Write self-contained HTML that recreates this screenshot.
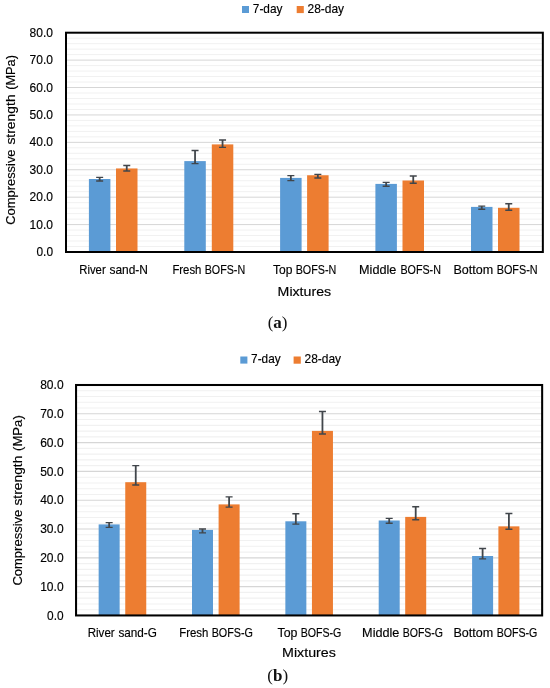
<!DOCTYPE html>
<html lang="en">
<head>
<meta charset="utf-8">
<title>Compressive strength of mixtures</title>
<style>
html,body{margin:0;padding:0;background:#fff;}
body{width:550px;height:688px;overflow:hidden;}
svg{display:block;}
text{white-space:pre;}
</style>
</head>
<body>
<svg width="550" height="688" viewBox="0 0 550 688">
<rect width="550" height="688" fill="#fff"/>
<g id="chart-a">
<rect x="66" y="32.7" width="476.85" height="219.3" fill="#fff"/>
<line x1="66" x2="542.85" y1="246.52" y2="246.52" stroke="#F1F1F1" stroke-width="1.0"/>
<line x1="66" x2="542.85" y1="241.03" y2="241.03" stroke="#F1F1F1" stroke-width="1.0"/>
<line x1="66" x2="542.85" y1="235.55" y2="235.55" stroke="#F1F1F1" stroke-width="1.0"/>
<line x1="66" x2="542.85" y1="230.07" y2="230.07" stroke="#F1F1F1" stroke-width="1.0"/>
<line x1="66" x2="542.85" y1="224.59" y2="224.59" stroke="#D6D6D6" stroke-width="1.0"/>
<line x1="66" x2="542.85" y1="219.11" y2="219.11" stroke="#F1F1F1" stroke-width="1.0"/>
<line x1="66" x2="542.85" y1="213.62" y2="213.62" stroke="#F1F1F1" stroke-width="1.0"/>
<line x1="66" x2="542.85" y1="208.14" y2="208.14" stroke="#F1F1F1" stroke-width="1.0"/>
<line x1="66" x2="542.85" y1="202.66" y2="202.66" stroke="#F1F1F1" stroke-width="1.0"/>
<line x1="66" x2="542.85" y1="197.18" y2="197.18" stroke="#D6D6D6" stroke-width="1.0"/>
<line x1="66" x2="542.85" y1="191.69" y2="191.69" stroke="#F1F1F1" stroke-width="1.0"/>
<line x1="66" x2="542.85" y1="186.21" y2="186.21" stroke="#F1F1F1" stroke-width="1.0"/>
<line x1="66" x2="542.85" y1="180.73" y2="180.73" stroke="#F1F1F1" stroke-width="1.0"/>
<line x1="66" x2="542.85" y1="175.25" y2="175.25" stroke="#F1F1F1" stroke-width="1.0"/>
<line x1="66" x2="542.85" y1="169.76" y2="169.76" stroke="#D6D6D6" stroke-width="1.0"/>
<line x1="66" x2="542.85" y1="164.28" y2="164.28" stroke="#F1F1F1" stroke-width="1.0"/>
<line x1="66" x2="542.85" y1="158.8" y2="158.8" stroke="#F1F1F1" stroke-width="1.0"/>
<line x1="66" x2="542.85" y1="153.31" y2="153.31" stroke="#F1F1F1" stroke-width="1.0"/>
<line x1="66" x2="542.85" y1="147.83" y2="147.83" stroke="#F1F1F1" stroke-width="1.0"/>
<line x1="66" x2="542.85" y1="142.35" y2="142.35" stroke="#D6D6D6" stroke-width="1.0"/>
<line x1="66" x2="542.85" y1="136.87" y2="136.87" stroke="#F1F1F1" stroke-width="1.0"/>
<line x1="66" x2="542.85" y1="131.38" y2="131.38" stroke="#F1F1F1" stroke-width="1.0"/>
<line x1="66" x2="542.85" y1="125.9" y2="125.9" stroke="#F1F1F1" stroke-width="1.0"/>
<line x1="66" x2="542.85" y1="120.42" y2="120.42" stroke="#F1F1F1" stroke-width="1.0"/>
<line x1="66" x2="542.85" y1="114.94" y2="114.94" stroke="#D6D6D6" stroke-width="1.0"/>
<line x1="66" x2="542.85" y1="109.46" y2="109.46" stroke="#F1F1F1" stroke-width="1.0"/>
<line x1="66" x2="542.85" y1="103.97" y2="103.97" stroke="#F1F1F1" stroke-width="1.0"/>
<line x1="66" x2="542.85" y1="98.49" y2="98.49" stroke="#F1F1F1" stroke-width="1.0"/>
<line x1="66" x2="542.85" y1="93.01" y2="93.01" stroke="#F1F1F1" stroke-width="1.0"/>
<line x1="66" x2="542.85" y1="87.53" y2="87.53" stroke="#D6D6D6" stroke-width="1.0"/>
<line x1="66" x2="542.85" y1="82.04" y2="82.04" stroke="#F1F1F1" stroke-width="1.0"/>
<line x1="66" x2="542.85" y1="76.56" y2="76.56" stroke="#F1F1F1" stroke-width="1.0"/>
<line x1="66" x2="542.85" y1="71.08" y2="71.08" stroke="#F1F1F1" stroke-width="1.0"/>
<line x1="66" x2="542.85" y1="65.59" y2="65.59" stroke="#F1F1F1" stroke-width="1.0"/>
<line x1="66" x2="542.85" y1="60.11" y2="60.11" stroke="#D6D6D6" stroke-width="1.0"/>
<line x1="66" x2="542.85" y1="54.63" y2="54.63" stroke="#F1F1F1" stroke-width="1.0"/>
<line x1="66" x2="542.85" y1="49.15" y2="49.15" stroke="#F1F1F1" stroke-width="1.0"/>
<line x1="66" x2="542.85" y1="43.66" y2="43.66" stroke="#F1F1F1" stroke-width="1.0"/>
<line x1="66" x2="542.85" y1="38.18" y2="38.18" stroke="#F1F1F1" stroke-width="1.0"/>
<rect x="88.9" y="179" width="21.5" height="73" fill="#5B9BD5"/>
<rect x="116" y="168.45" width="21.5" height="83.55" fill="#ED7D31"/>
<rect x="184.3" y="161.1" width="21.5" height="90.9" fill="#5B9BD5"/>
<rect x="211.8" y="144.4" width="21.5" height="107.6" fill="#ED7D31"/>
<rect x="280.1" y="177.9" width="21.5" height="74.1" fill="#5B9BD5"/>
<rect x="307.1" y="175.25" width="21.5" height="76.75" fill="#ED7D31"/>
<rect x="375.4" y="183.9" width="21.5" height="68.1" fill="#5B9BD5"/>
<rect x="402.5" y="180.5" width="21.5" height="71.5" fill="#ED7D31"/>
<rect x="471" y="206.9" width="21.5" height="45.1" fill="#5B9BD5"/>
<rect x="498" y="207.8" width="21.5" height="44.2" fill="#ED7D31"/>
<path d="M96.15 177.4H103.15M96.15 181.05H103.15" stroke="#41464b" stroke-width="1.4" fill="none"/>
<path d="M99.65 177.4V181.05" stroke="#41464b" stroke-width="1.8" fill="none"/>
<path d="M123.25 165.5H130.25M123.25 171H130.25" stroke="#41464b" stroke-width="1.4" fill="none"/>
<path d="M126.75 165.5V171" stroke="#41464b" stroke-width="1.8" fill="none"/>
<path d="M191.55 150.5H198.55M191.55 163.65H198.55" stroke="#41464b" stroke-width="1.4" fill="none"/>
<path d="M195.05 150.5V163.65" stroke="#41464b" stroke-width="1.8" fill="none"/>
<path d="M219.05 140H226.05M219.05 147.4H226.05" stroke="#41464b" stroke-width="1.4" fill="none"/>
<path d="M222.55 140V147.4" stroke="#41464b" stroke-width="1.8" fill="none"/>
<path d="M287.35 175.6H294.35M287.35 180.6H294.35" stroke="#41464b" stroke-width="1.4" fill="none"/>
<path d="M290.85 175.6V180.6" stroke="#41464b" stroke-width="1.8" fill="none"/>
<path d="M314.35 174.4H321.35M314.35 178.05H321.35" stroke="#41464b" stroke-width="1.4" fill="none"/>
<path d="M317.85 174.4V178.05" stroke="#41464b" stroke-width="1.8" fill="none"/>
<path d="M382.65 182.4H389.65M382.65 186.2H389.65" stroke="#41464b" stroke-width="1.4" fill="none"/>
<path d="M386.15 182.4V186.2" stroke="#41464b" stroke-width="1.8" fill="none"/>
<path d="M409.75 176H416.75M409.75 183.3H416.75" stroke="#41464b" stroke-width="1.4" fill="none"/>
<path d="M413.25 176V183.3" stroke="#41464b" stroke-width="1.8" fill="none"/>
<path d="M478.25 206.1H485.25M478.25 209.3H485.25" stroke="#41464b" stroke-width="1.4" fill="none"/>
<path d="M481.75 206.1V209.3" stroke="#41464b" stroke-width="1.8" fill="none"/>
<path d="M505.25 203.7H512.25M505.25 210.3H512.25" stroke="#41464b" stroke-width="1.4" fill="none"/>
<path d="M508.75 203.7V210.3" stroke="#41464b" stroke-width="1.8" fill="none"/>
<rect x="66" y="32.7" width="476.85" height="219.3" fill="none" stroke="#000" stroke-width="2.0"/>
<text x="53" y="256.1" text-anchor="end" textLength="16.5" lengthAdjust="spacingAndGlyphs" font-size="11.9" font-family="Liberation Sans, Arial, sans-serif" stroke="#000" stroke-width="0.15" fill="#000">0.0</text>
<text x="53" y="228.69" text-anchor="end" textLength="23.4" lengthAdjust="spacingAndGlyphs" font-size="11.9" font-family="Liberation Sans, Arial, sans-serif" stroke="#000" stroke-width="0.15" fill="#000">10.0</text>
<text x="53" y="201.28" text-anchor="end" textLength="23.4" lengthAdjust="spacingAndGlyphs" font-size="11.9" font-family="Liberation Sans, Arial, sans-serif" stroke="#000" stroke-width="0.15" fill="#000">20.0</text>
<text x="53" y="173.86" text-anchor="end" textLength="23.4" lengthAdjust="spacingAndGlyphs" font-size="11.9" font-family="Liberation Sans, Arial, sans-serif" stroke="#000" stroke-width="0.15" fill="#000">30.0</text>
<text x="53" y="146.45" text-anchor="end" textLength="23.4" lengthAdjust="spacingAndGlyphs" font-size="11.9" font-family="Liberation Sans, Arial, sans-serif" stroke="#000" stroke-width="0.15" fill="#000">40.0</text>
<text x="53" y="119.04" text-anchor="end" textLength="23.4" lengthAdjust="spacingAndGlyphs" font-size="11.9" font-family="Liberation Sans, Arial, sans-serif" stroke="#000" stroke-width="0.15" fill="#000">50.0</text>
<text x="53" y="91.62" text-anchor="end" textLength="23.4" lengthAdjust="spacingAndGlyphs" font-size="11.9" font-family="Liberation Sans, Arial, sans-serif" stroke="#000" stroke-width="0.15" fill="#000">60.0</text>
<text x="53" y="64.21" text-anchor="end" textLength="23.4" lengthAdjust="spacingAndGlyphs" font-size="11.9" font-family="Liberation Sans, Arial, sans-serif" stroke="#000" stroke-width="0.15" fill="#000">70.0</text>
<text x="53" y="36.8" text-anchor="end" textLength="23.4" lengthAdjust="spacingAndGlyphs" font-size="11.9" font-family="Liberation Sans, Arial, sans-serif" stroke="#000" stroke-width="0.15" fill="#000">80.0</text>
<text y="273.5" font-size="11.9" font-family="Liberation Sans, Arial, sans-serif" stroke="#000" stroke-width="0.15" fill="#000"><tspan x="79.26" textLength="26.42" lengthAdjust="spacingAndGlyphs">River</tspan> <tspan x="109.48" textLength="38.5" lengthAdjust="spacingAndGlyphs">sand-N</tspan></text>
<text y="273.5" font-size="11.9" font-family="Liberation Sans, Arial, sans-serif" stroke="#000" stroke-width="0.15" fill="#000"><tspan x="172.4" textLength="29" lengthAdjust="spacingAndGlyphs">Fresh</tspan> <tspan x="204.68" textLength="40.44" lengthAdjust="spacingAndGlyphs">BOFS-N</tspan></text>
<text y="273.5" font-size="11.9" font-family="Liberation Sans, Arial, sans-serif" stroke="#000" stroke-width="0.15" fill="#000"><tspan x="272.98" textLength="19.42" lengthAdjust="spacingAndGlyphs">Top</tspan> <tspan x="295.68" textLength="40.58" lengthAdjust="spacingAndGlyphs">BOFS-N</tspan></text>
<text y="273.5" font-size="11.9" font-family="Liberation Sans, Arial, sans-serif" stroke="#000" stroke-width="0.15" fill="#000"><tspan x="359.04" textLength="37.28" lengthAdjust="spacingAndGlyphs">Middle</tspan> <tspan x="400.4" textLength="40.5" lengthAdjust="spacingAndGlyphs">BOFS-N</tspan></text>
<text y="273.5" font-size="11.9" font-family="Liberation Sans, Arial, sans-serif" stroke="#000" stroke-width="0.15" fill="#000"><tspan x="453.4" textLength="39.72" lengthAdjust="spacingAndGlyphs">Bottom</tspan> <tspan x="496.68" textLength="40.94" lengthAdjust="spacingAndGlyphs">BOFS-N</tspan></text>
<text x="304.35" y="295.8" text-anchor="middle" textLength="53.5" lengthAdjust="spacingAndGlyphs" font-size="12.5" font-family="Liberation Sans, Arial, sans-serif" stroke="#000" stroke-width="0.15" fill="#000">Mixtures</text>
<text transform="translate(15.2 0) rotate(-90)" y="0" font-size="12.5" font-family="Liberation Sans, Arial, sans-serif" stroke="#000" stroke-width="0.15" fill="#000"><tspan x="-224.74" textLength="75.28" lengthAdjust="spacingAndGlyphs">Compressive</tspan> <tspan x="-144.6" textLength="50.22" lengthAdjust="spacingAndGlyphs">strength</tspan> <tspan x="-89.88" textLength="34.78" lengthAdjust="spacingAndGlyphs">(MPa)</tspan></text>
<rect x="242" y="6" width="7" height="7" fill="#5B9BD5"/>
<text x="252.8" y="13.1" textLength="29.6" lengthAdjust="spacingAndGlyphs" font-size="11.9" font-family="Liberation Sans, Arial, sans-serif" stroke="#000" stroke-width="0.15" fill="#000">7-day</text>
<rect x="296.7" y="6" width="7.1" height="7.1" fill="#ED7D31"/>
<text x="307.5" y="13.1" textLength="36.6" lengthAdjust="spacingAndGlyphs" font-size="11.9" font-family="Liberation Sans, Arial, sans-serif" stroke="#000" stroke-width="0.15" fill="#000">28-day</text>
<text x="277.6" y="328" text-anchor="middle" font-size="17" font-family="Liberation Serif, Times New Roman, serif" fill="#111">(<tspan font-weight="bold">a</tspan>)</text>
</g>
<g id="chart-b">
<rect x="76.05" y="385" width="466.1" height="230.45" fill="#fff"/>
<line x1="76.05" x2="542.15" y1="609.69" y2="609.69" stroke="#F1F1F1" stroke-width="1.1"/>
<line x1="76.05" x2="542.15" y1="603.93" y2="603.93" stroke="#F1F1F1" stroke-width="1.1"/>
<line x1="76.05" x2="542.15" y1="598.17" y2="598.17" stroke="#F1F1F1" stroke-width="1.1"/>
<line x1="76.05" x2="542.15" y1="592.41" y2="592.41" stroke="#F1F1F1" stroke-width="1.1"/>
<line x1="76.05" x2="542.15" y1="586.64" y2="586.64" stroke="#D6D6D6" stroke-width="1.1"/>
<line x1="76.05" x2="542.15" y1="580.88" y2="580.88" stroke="#F1F1F1" stroke-width="1.1"/>
<line x1="76.05" x2="542.15" y1="575.12" y2="575.12" stroke="#F1F1F1" stroke-width="1.1"/>
<line x1="76.05" x2="542.15" y1="569.36" y2="569.36" stroke="#F1F1F1" stroke-width="1.1"/>
<line x1="76.05" x2="542.15" y1="563.6" y2="563.6" stroke="#F1F1F1" stroke-width="1.1"/>
<line x1="76.05" x2="542.15" y1="557.84" y2="557.84" stroke="#D6D6D6" stroke-width="1.1"/>
<line x1="76.05" x2="542.15" y1="552.08" y2="552.08" stroke="#F1F1F1" stroke-width="1.1"/>
<line x1="76.05" x2="542.15" y1="546.32" y2="546.32" stroke="#F1F1F1" stroke-width="1.1"/>
<line x1="76.05" x2="542.15" y1="540.55" y2="540.55" stroke="#F1F1F1" stroke-width="1.1"/>
<line x1="76.05" x2="542.15" y1="534.79" y2="534.79" stroke="#F1F1F1" stroke-width="1.1"/>
<line x1="76.05" x2="542.15" y1="529.03" y2="529.03" stroke="#D6D6D6" stroke-width="1.1"/>
<line x1="76.05" x2="542.15" y1="523.27" y2="523.27" stroke="#F1F1F1" stroke-width="1.1"/>
<line x1="76.05" x2="542.15" y1="517.51" y2="517.51" stroke="#F1F1F1" stroke-width="1.1"/>
<line x1="76.05" x2="542.15" y1="511.75" y2="511.75" stroke="#F1F1F1" stroke-width="1.1"/>
<line x1="76.05" x2="542.15" y1="505.99" y2="505.99" stroke="#F1F1F1" stroke-width="1.1"/>
<line x1="76.05" x2="542.15" y1="500.23" y2="500.23" stroke="#D6D6D6" stroke-width="1.1"/>
<line x1="76.05" x2="542.15" y1="494.46" y2="494.46" stroke="#F1F1F1" stroke-width="1.1"/>
<line x1="76.05" x2="542.15" y1="488.7" y2="488.7" stroke="#F1F1F1" stroke-width="1.1"/>
<line x1="76.05" x2="542.15" y1="482.94" y2="482.94" stroke="#F1F1F1" stroke-width="1.1"/>
<line x1="76.05" x2="542.15" y1="477.18" y2="477.18" stroke="#F1F1F1" stroke-width="1.1"/>
<line x1="76.05" x2="542.15" y1="471.42" y2="471.42" stroke="#D6D6D6" stroke-width="1.1"/>
<line x1="76.05" x2="542.15" y1="465.66" y2="465.66" stroke="#F1F1F1" stroke-width="1.1"/>
<line x1="76.05" x2="542.15" y1="459.9" y2="459.9" stroke="#F1F1F1" stroke-width="1.1"/>
<line x1="76.05" x2="542.15" y1="454.13" y2="454.13" stroke="#F1F1F1" stroke-width="1.1"/>
<line x1="76.05" x2="542.15" y1="448.37" y2="448.37" stroke="#F1F1F1" stroke-width="1.1"/>
<line x1="76.05" x2="542.15" y1="442.61" y2="442.61" stroke="#D6D6D6" stroke-width="1.1"/>
<line x1="76.05" x2="542.15" y1="436.85" y2="436.85" stroke="#F1F1F1" stroke-width="1.1"/>
<line x1="76.05" x2="542.15" y1="431.09" y2="431.09" stroke="#F1F1F1" stroke-width="1.1"/>
<line x1="76.05" x2="542.15" y1="425.33" y2="425.33" stroke="#F1F1F1" stroke-width="1.1"/>
<line x1="76.05" x2="542.15" y1="419.57" y2="419.57" stroke="#F1F1F1" stroke-width="1.1"/>
<line x1="76.05" x2="542.15" y1="413.81" y2="413.81" stroke="#D6D6D6" stroke-width="1.1"/>
<line x1="76.05" x2="542.15" y1="408.04" y2="408.04" stroke="#F1F1F1" stroke-width="1.1"/>
<line x1="76.05" x2="542.15" y1="402.28" y2="402.28" stroke="#F1F1F1" stroke-width="1.1"/>
<line x1="76.05" x2="542.15" y1="396.52" y2="396.52" stroke="#F1F1F1" stroke-width="1.1"/>
<line x1="76.05" x2="542.15" y1="390.76" y2="390.76" stroke="#F1F1F1" stroke-width="1.1"/>
<rect x="98.65" y="524.4" width="21" height="91.05" fill="#5B9BD5"/>
<rect x="125.25" y="482.2" width="21" height="133.25" fill="#ED7D31"/>
<rect x="192" y="529.9" width="21" height="85.55" fill="#5B9BD5"/>
<rect x="218.6" y="504.4" width="21" height="111.05" fill="#ED7D31"/>
<rect x="285.35" y="521.3" width="21" height="94.15" fill="#5B9BD5"/>
<rect x="311.95" y="430.9" width="21" height="184.55" fill="#ED7D31"/>
<rect x="378.7" y="520.5" width="21" height="94.95" fill="#5B9BD5"/>
<rect x="405.2" y="516.9" width="21" height="98.55" fill="#ED7D31"/>
<rect x="472.1" y="556" width="21" height="59.45" fill="#5B9BD5"/>
<rect x="498.4" y="526.35" width="21" height="89.1" fill="#ED7D31"/>
<path d="M105.65 522.6H112.65M105.65 527.4H112.65" stroke="#41464b" stroke-width="1.4" fill="none"/>
<path d="M109.15 522.6V527.4" stroke="#41464b" stroke-width="1.8" fill="none"/>
<path d="M132.25 465.65H139.25M132.25 485H139.25" stroke="#41464b" stroke-width="1.4" fill="none"/>
<path d="M135.75 465.65V485" stroke="#41464b" stroke-width="1.8" fill="none"/>
<path d="M199 529H206M199 532.9H206" stroke="#41464b" stroke-width="1.4" fill="none"/>
<path d="M202.5 529V532.9" stroke="#41464b" stroke-width="1.8" fill="none"/>
<path d="M225.6 496.9H232.6M225.6 507.1H232.6" stroke="#41464b" stroke-width="1.4" fill="none"/>
<path d="M229.1 496.9V507.1" stroke="#41464b" stroke-width="1.8" fill="none"/>
<path d="M292.35 513.8H299.35M292.35 524.1H299.35" stroke="#41464b" stroke-width="1.4" fill="none"/>
<path d="M295.85 513.8V524.1" stroke="#41464b" stroke-width="1.8" fill="none"/>
<path d="M318.95 411.45H325.95M318.95 434H325.95" stroke="#41464b" stroke-width="1.4" fill="none"/>
<path d="M322.45 411.45V434" stroke="#41464b" stroke-width="1.8" fill="none"/>
<path d="M385.7 518.4H392.7M385.7 523.3H392.7" stroke="#41464b" stroke-width="1.4" fill="none"/>
<path d="M389.2 518.4V523.3" stroke="#41464b" stroke-width="1.8" fill="none"/>
<path d="M412.2 506.7H419.2M412.2 519.8H419.2" stroke="#41464b" stroke-width="1.4" fill="none"/>
<path d="M415.7 506.7V519.8" stroke="#41464b" stroke-width="1.8" fill="none"/>
<path d="M479.1 548.5H486.1M479.1 558.9H486.1" stroke="#41464b" stroke-width="1.4" fill="none"/>
<path d="M482.6 548.5V558.9" stroke="#41464b" stroke-width="1.8" fill="none"/>
<path d="M505.4 513.5H512.4M505.4 529.3H512.4" stroke="#41464b" stroke-width="1.4" fill="none"/>
<path d="M508.9 513.5V529.3" stroke="#41464b" stroke-width="1.8" fill="none"/>
<rect x="76.05" y="385" width="466.1" height="230.45" fill="none" stroke="#000" stroke-width="2.05"/>
<text x="63.6" y="619.55" text-anchor="end" textLength="16.5" lengthAdjust="spacingAndGlyphs" font-size="11.9" font-family="Liberation Sans, Arial, sans-serif" stroke="#000" stroke-width="0.15" fill="#000">0.0</text>
<text x="63.6" y="590.74" text-anchor="end" textLength="23.4" lengthAdjust="spacingAndGlyphs" font-size="11.9" font-family="Liberation Sans, Arial, sans-serif" stroke="#000" stroke-width="0.15" fill="#000">10.0</text>
<text x="63.6" y="561.94" text-anchor="end" textLength="23.4" lengthAdjust="spacingAndGlyphs" font-size="11.9" font-family="Liberation Sans, Arial, sans-serif" stroke="#000" stroke-width="0.15" fill="#000">20.0</text>
<text x="63.6" y="533.13" text-anchor="end" textLength="23.4" lengthAdjust="spacingAndGlyphs" font-size="11.9" font-family="Liberation Sans, Arial, sans-serif" stroke="#000" stroke-width="0.15" fill="#000">30.0</text>
<text x="63.6" y="504.33" text-anchor="end" textLength="23.4" lengthAdjust="spacingAndGlyphs" font-size="11.9" font-family="Liberation Sans, Arial, sans-serif" stroke="#000" stroke-width="0.15" fill="#000">40.0</text>
<text x="63.6" y="475.52" text-anchor="end" textLength="23.4" lengthAdjust="spacingAndGlyphs" font-size="11.9" font-family="Liberation Sans, Arial, sans-serif" stroke="#000" stroke-width="0.15" fill="#000">50.0</text>
<text x="63.6" y="446.71" text-anchor="end" textLength="23.4" lengthAdjust="spacingAndGlyphs" font-size="11.9" font-family="Liberation Sans, Arial, sans-serif" stroke="#000" stroke-width="0.15" fill="#000">60.0</text>
<text x="63.6" y="417.91" text-anchor="end" textLength="23.4" lengthAdjust="spacingAndGlyphs" font-size="11.9" font-family="Liberation Sans, Arial, sans-serif" stroke="#000" stroke-width="0.15" fill="#000">70.0</text>
<text x="63.6" y="389.1" text-anchor="end" textLength="23.4" lengthAdjust="spacingAndGlyphs" font-size="11.9" font-family="Liberation Sans, Arial, sans-serif" stroke="#000" stroke-width="0.15" fill="#000">80.0</text>
<text y="636.8" font-size="11.9" font-family="Liberation Sans, Arial, sans-serif" stroke="#000" stroke-width="0.15" fill="#000"><tspan x="87.68" textLength="27" lengthAdjust="spacingAndGlyphs">River</tspan> <tspan x="118.4" textLength="38.5" lengthAdjust="spacingAndGlyphs">sand-G</tspan></text>
<text y="636.8" font-size="11.9" font-family="Liberation Sans, Arial, sans-serif" stroke="#000" stroke-width="0.15" fill="#000"><tspan x="179.26" textLength="29.14" lengthAdjust="spacingAndGlyphs">Fresh</tspan> <tspan x="211.68" textLength="41.3" lengthAdjust="spacingAndGlyphs">BOFS-G</tspan></text>
<text y="636.8" font-size="11.9" font-family="Liberation Sans, Arial, sans-serif" stroke="#000" stroke-width="0.15" fill="#000"><tspan x="277.48" textLength="19.92" lengthAdjust="spacingAndGlyphs">Top</tspan> <tspan x="300.68" textLength="40.72" lengthAdjust="spacingAndGlyphs">BOFS-G</tspan></text>
<text y="636.8" font-size="11.9" font-family="Liberation Sans, Arial, sans-serif" stroke="#000" stroke-width="0.15" fill="#000"><tspan x="362.12" textLength="37.28" lengthAdjust="spacingAndGlyphs">Middle</tspan> <tspan x="402.68" textLength="40.36" lengthAdjust="spacingAndGlyphs">BOFS-G</tspan></text>
<text y="636.8" font-size="11.9" font-family="Liberation Sans, Arial, sans-serif" stroke="#000" stroke-width="0.15" fill="#000"><tspan x="453.4" textLength="39.72" lengthAdjust="spacingAndGlyphs">Bottom</tspan> <tspan x="496.68" textLength="40.72" lengthAdjust="spacingAndGlyphs">BOFS-G</tspan></text>
<text x="309" y="657" text-anchor="middle" textLength="53.8" lengthAdjust="spacingAndGlyphs" font-size="12.5" font-family="Liberation Sans, Arial, sans-serif" stroke="#000" stroke-width="0.15" fill="#000">Mixtures</text>
<text transform="translate(22.1 0) rotate(-90)" y="0" font-size="12.5" font-family="Liberation Sans, Arial, sans-serif" stroke="#000" stroke-width="0.15" fill="#000"><tspan x="-585.6" textLength="75.86" lengthAdjust="spacingAndGlyphs">Compressive</tspan> <tspan x="-505.6" textLength="50" lengthAdjust="spacingAndGlyphs">strength</tspan> <tspan x="-450.96" textLength="35.72" lengthAdjust="spacingAndGlyphs">(MPa)</tspan></text>
<rect x="240.3" y="356.5" width="7.1" height="7.1" fill="#5B9BD5"/>
<text x="251.1" y="363.3" textLength="29.5" lengthAdjust="spacingAndGlyphs" font-size="11.9" font-family="Liberation Sans, Arial, sans-serif" stroke="#000" stroke-width="0.15" fill="#000">7-day</text>
<rect x="293.6" y="356.5" width="7.2" height="7.2" fill="#ED7D31"/>
<text x="304.5" y="363.3" textLength="36.6" lengthAdjust="spacingAndGlyphs" font-size="11.9" font-family="Liberation Sans, Arial, sans-serif" stroke="#000" stroke-width="0.15" fill="#000">28-day</text>
<text x="277.7" y="680.5" text-anchor="middle" font-size="17" font-family="Liberation Serif, Times New Roman, serif" fill="#111">(<tspan font-weight="bold">b</tspan>)</text>
</g>
</svg>
</body>
</html>
